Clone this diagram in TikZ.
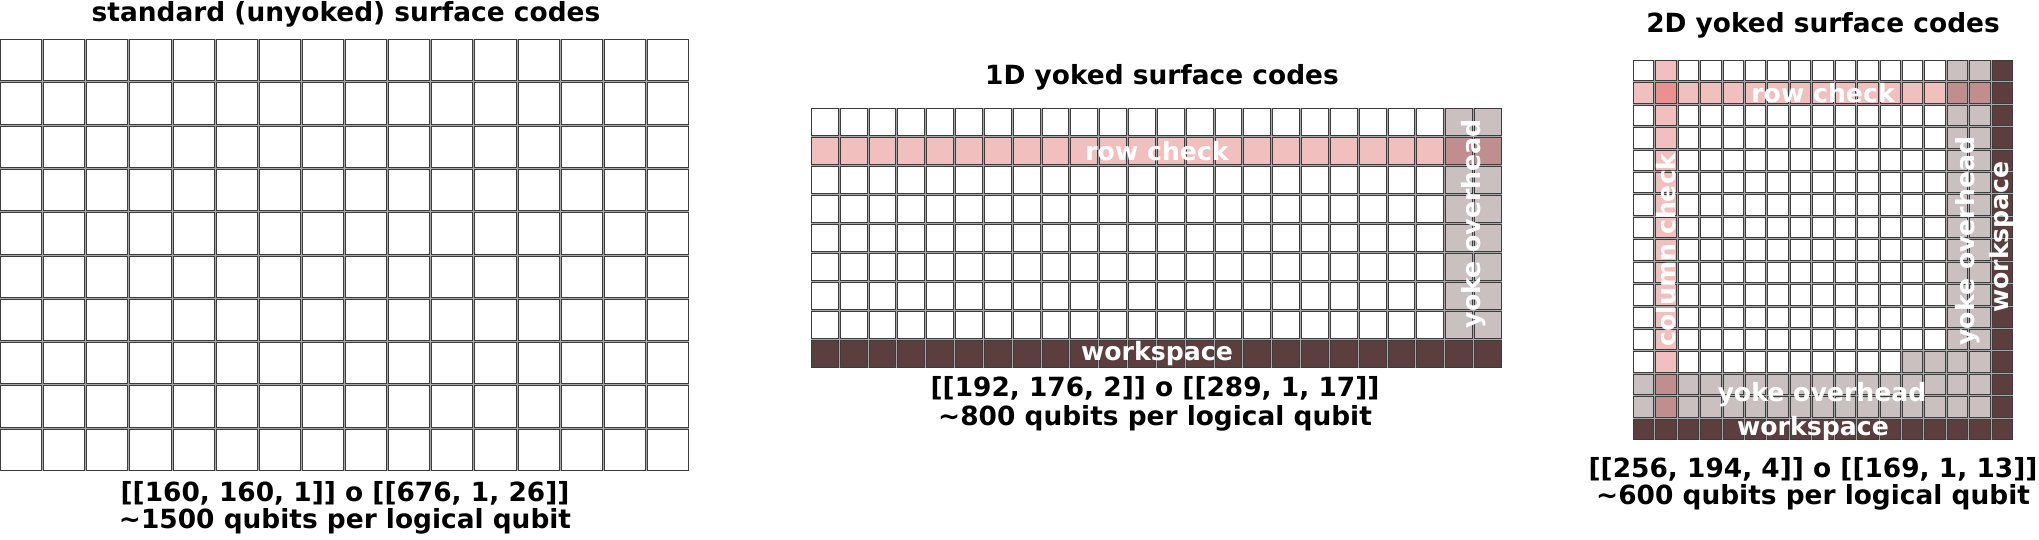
\documentclass[tikz,border=0pt]{standalone}
\usepackage{fontspec}
\setmainfont{DejaVu Sans}
\definecolor{pk}{HTML}{F2BFBF}
\definecolor{dpk}{HTML}{EB8F8F}
\definecolor{yk}{HTML}{C9C0BF}
\definecolor{ypk}{HTML}{C08E8E}
\definecolor{ws}{HTML}{5C3E3E}
\definecolor{cellline}{HTML}{3C3C3C}
\definecolor{gapc}{HTML}{A8A8A8}
% x0 y0 pitchw pitchh i j colour
\newcommand\qcell[7]{%
  \pgfmathsetmacro\xa{round(#1+#5*#3)+1.5}%
  \pgfmathsetmacro\xb{round(#1+(#5+1)*#3)-0.5}%
  \pgfmathsetmacro\ya{round(#2+#6*#4)+1.5}%
  \pgfmathsetmacro\yb{round(#2+(#6+1)*#4)-0.5}%
  \path[fill=#7, draw=cellline, line width=0.55pt] (\xa,\ya) rectangle (\xb,\yb);}
\newcommand\setcolOne[2]{%
  \def\cc{white}%
  \ifnum#1>21 \def\cc{yk}\fi
  \ifnum#2=1 \def\cc{pk}\ifnum#1>21 \def\cc{ypk}\fi\fi
  \ifnum#2=8 \def\cc{ws}\fi}
\newcommand\setcolTwo[2]{%
  \def\cc{white}%
  \ifnum#1=1 \def\cc{pk}\fi
  \ifnum#1>13 \def\cc{yk}\fi
  \ifnum#2=1 \def\cc{pk}\ifnum#1=1 \def\cc{dpk}\fi\ifnum#1>13 \def\cc{ypk}\fi\fi
  \ifnum#2=13 \ifnum#1>11 \def\cc{yk}\fi\fi
  \ifnum#2>13 \def\cc{yk}\ifnum#1=1 \def\cc{ypk}\fi\fi
  \ifnum#1=16 \def\cc{ws}\fi
  \ifnum#2=16 \def\cc{ws}\fi}
\begin{document}
\begin{tikzpicture}[x=0.5pt,y=-0.5pt,
  ttl/.style={font=\fontsize{13.2}{15}\selectfont\bfseries, inner sep=0pt, text=black},
  lbl/.style={font=\fontsize{12.6}{14}\selectfont\bfseries, inner sep=0pt, text=white}]
\useasboundingbox (0,0) rectangle (2039,540);
% ---- standard grid
\fill[gapc] (0,39) rectangle (689,471);
\foreach \i in {0,...,15}{\foreach \j in {0,...,9}{\qcell{-1}{38}{43.125}{43.3}{\i}{\j}{white}}}
\node[ttl] (t1) at (346,14) {standard (unyoked) surface codes};
\node[ttl] (c1) at (345,493) {[[160, 160, 1]] o [[676, 1, 26]]};
\node[ttl] (q1) at (345,521) {\textasciitilde1500 qubits per logical qubit};
% ---- 1D yoked
\fill[gapc] (811,108) rectangle (1502,368);
\foreach \i in {0,...,23}{\foreach \j in {0,...,8}{\setcolOne{\i}{\j}\qcell{810}{107}{28.83}{28.95}{\i}{\j}{\cc}}}
\node[ttl] (t2) at (1162,77) {1D yoked surface codes};
\node[lbl] (rc2) at (1157,151.5) {row check};
\node[lbl] (ws2) at (1157,353.5) {workspace};
\node[lbl, rotate=90] (yo2) at (1473.4,223.5) {yoke overhead};
\node[ttl] (c2) at (1155,388) {[[192, 176, 2]] o [[289, 1, 17]]};
\node[ttl] (q2) at (1155,418) {\textasciitilde800 qubits per logical qubit};
% ---- 2D yoked
\fill[gapc] (1633,60) rectangle (2013,440);
\foreach \i in {0,...,16}{\foreach \j in {0,...,16}{\setcolTwo{\i}{\j}\qcell{1632}{59}{22.41}{22.41}{\i}{\j}{\cc}}}
\node[ttl] (t3) at (1823,25) {2D yoked surface codes};
\node[lbl] (rc3) at (1823,93.5) {row check};
\node[lbl, rotate=90] (cc3) at (1666.5,250) {column check};
\node[lbl, rotate=90] (yo3) at (1968,241) {yoke overhead};
\node[lbl, rotate=90] (wv3) at (2001.5,237) {workspace};
\node[lbl] (yh3) at (1822,395) {yoke overhead};
\node[lbl] (wh3) at (1813,428.5) {workspace};
\node[ttl] (c3) at (1813,469) {[[256, 194, 4]] o [[169, 1, 13]]};
\node[ttl] (q3) at (1813,497) {\textasciitilde600 qubits per logical qubit};
\end{tikzpicture}
\end{document}
